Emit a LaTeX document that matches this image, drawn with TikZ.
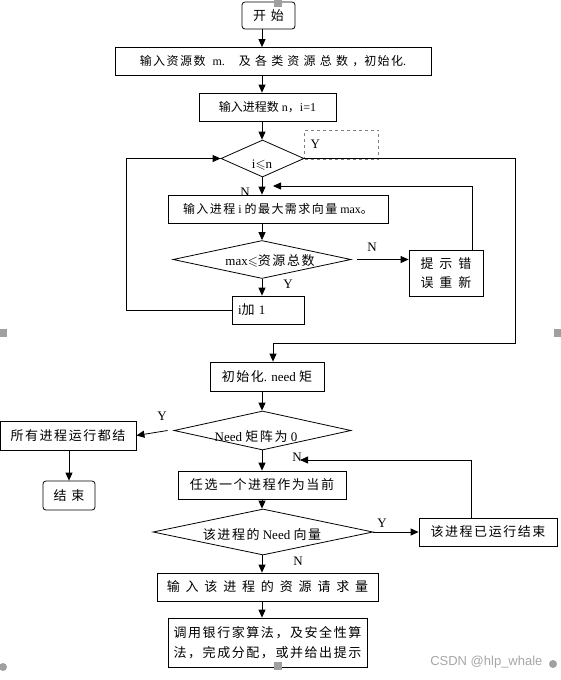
\documentclass[tikz,border=0pt]{standalone}
\usepackage{amssymb}
\usepackage{fontspec}
\setmainfont{Liberation Serif}
\newfontfamily\cjk[LetterSpace=12]{Noto Sans CJK SC}
\newfontfamily\cjkn{Noto Sans CJK SC}
\newfontfamily\cjkm[LetterSpace=35]{Noto Sans CJK SC}
\newfontfamily\cjkw[LetterSpace=45]{Noto Sans CJK SC}
\newfontfamily\wmfont{Liberation Sans}
\usetikzlibrary{shapes.geometric,arrows.meta}
\newcommand\zh[1]{{\cjk #1}}
\newcommand\zhn[1]{{\cjkn #1}}
\newcommand\zhm[1]{{\cjkm #1}}
\newcommand\zhw[1]{{\cjkw #1}}
\definecolor{handlegray}{HTML}{A0A0A0}
\definecolor{wmgray}{HTML}{A6A6A6}

\begin{document}
\begin{tikzpicture}[x=1pt,y=-1pt,font=\fontsize{13}{15}\selectfont,
    box/.style={draw, line width=0.8pt, inner sep=2pt, minimum height=28pt},
    rbox/.style={box, rounded corners=3pt},
    dia/.style={draw, diamond, line width=0.8pt, inner sep=0pt},
    arr/.style={line width=0.8pt, -{Triangle[length=8pt,width=7pt]}},
    yn/.style={inner sep=0pt}]
    \useasboundingbox (0,0) rectangle (561,680);
    \coordinate (col) at (262,0);

    % main column
    \node[rbox, minimum width=53pt, minimum height=27pt] (start) at (268.5,15.5) {\zh{开\hspace{5pt}始}};
    \node[box, minimum width=316pt, font=\fontsize{12}{14}\selectfont] (inres) at (273,61.5)
        {\zh{输入资源数}\hspace{7pt}m.\hspace{14pt}\zhm{及各类资源总数，}\zh{初始化}.};
    \node[box, minimum width=137pt, font=\fontsize{12}{14}\selectfont] (inproc) at (267.5,107)
        {\zhn{输入进程数} n\zhn{，}i=1};
    \node[dia, minimum width=83pt, minimum height=37pt] (ile) at (262.5,158.5) {};
    \node[yn] (tile) at (262,165) {i$\leqslant$n};
    \node[draw=gray, dashed, line width=0.6pt, minimum height=29pt, text width=62pt,
        align=left, inner xsep=6pt] (ybox) at (341.5,144.5) {Y};
    \node[box, minimum width=220pt, font=\fontsize{12}{14}\selectfont] (inmax) at (278,209)
        {\zh{输入进程} i \zh{的最大需求向量} max\zh{。}};
    \node[dia, minimum width=178pt, minimum height=38pt] (cmp) at (262,259.5) {};
    \node[yn] (tcmp) at (270,261) {max$\leqslant$\zh{资源总数}};
    \node[box, minimum width=74pt, minimum height=46pt, align=center,
        font=\fontsize{13}{19}\selectfont] (err) at (446,273) {\zhw{提示错}\\\zhw{误重新}};
    \node[box, minimum width=72pt, text width=60pt, align=left, inner xsep=6pt] (inc) at (268,310)
        {i\zh{加} 1};

    \node[box, minimum width=114pt, minimum height=29pt] (init) at (267,376.5)
        {\zh{初始化}. need \zh{矩}};
    \node[dia, minimum width=177pt, minimum height=39pt] (zero) at (262.5,430.5) {};
    \node[yn] (tzero) at (256,437) {Need \zh{矩阵为} 0};
    \node[box, minimum width=136pt, minimum height=29pt] (done) at (68,435.5)
        {\zh{所有进程运行都结}};
    \node[rbox, minimum width=52pt, minimum height=29pt] (stop) at (69,495.5) {\zh{结\hspace{5pt}束}};
    \node[box, minimum width=168pt] (pick) at (262,485) {\zh{任选一个进程作为当前}};
    \node[dia, minimum width=220pt, minimum height=46pt] (vec) at (263,532) {};
    \node[yn] (tvec) at (262,535) {\zh{该进程的} Need \zh{向量}};
    \node[box, minimum width=138pt] (fin) at (488,532) {\zh{该进程已运行结束}};
    \node[box, minimum width=221pt] (req) at (267.5,587) {\zhw{输入该进程的资源请求量}};
    \node[box, minimum width=199pt, minimum height=49pt, align=center,
        font=\fontsize{13}{20}\selectfont] (alg) at (267.5,642.5)
        {\zh{调用银行家算法，及安全性算}\\\zh{法，完成分配，或并给出提示}};

    % Y / N marks
    \node[yn] (n1) at (245,192) {N};
    \node[yn] (n2) at (372,247) {N};
    \node[yn] (y2) at (288,284) {Y};
    \node[yn] (y3) at (162,416) {Y};
    \node[yn] (n3) at (297,457) {N};
    \node[yn] (y4) at (382,523) {Y};
    \node[yn] (n4) at (298,561) {N};

    % loose ends of the loops
    \coordinate (back1) at (273,186);
    \coordinate (rcorner) at (515,343);
    \coordinate (down1) at (273,343);
    \coordinate (back2) at (300,460);

    % connectors
    \draw[arr] (start.south -| col) -- (inres.north -| col);
    \draw[arr] (inres.south -| col) -- (inproc.north -| col);
    \draw[arr] (inproc.south -| col) -- (ile.north -| col);
    \draw[arr] (ile.south -| col) -- (inmax.north -| col);
    \draw[arr] (inmax.south -| col) -- (cmp.north -| col);
    \draw[arr] ([xshift=6pt]cmp.east) -- (cmp.east -| err.west);
    \draw[arr] ([xshift=26pt]err.north) |- (back1);
    \draw[arr] (cmp.south -| col) -- (inc.north -| col);
    \draw[arr] (inc.west) -- ++(-105,0) |- (ile.west);
    \draw[line width=0.8pt] (ile.east) -| (rcorner) -- (down1);
    \draw[arr] (down1) -- (init.north -| down1);
    \draw[arr] (init.south -| col) -- (zero.north -| col);
    \draw[arr] ([xshift=-6pt]zero.west) -- (done.east);
    \draw[arr] (done.south -| stop.north) -- (stop.north);
    \draw[arr] (zero.south -| col) -- (pick.north -| col);
    \draw[arr] (pick.south -| col) -- (vec.north -| col);
    \draw[arr] (vec.east) -- (fin.west);
    \draw[arr] ([xshift=-17pt]fin.north) |- (back2);
    \draw[arr] (vec.south -| col) -- (req.north -| col);
    \draw[arr] (req.south -| col) -- (alg.north -| col);

    % canvas handles and mark
    \foreach \hx/\hy in {278/3, 3/333, 558/333, 278/666} {
        \fill[handlegray] (\hx-4,\hy-4) rectangle (\hx+4,\hy+4);
    }
    \fill[handlegray] (3,667) circle (4);
    \fill[handlegray] (553,664) circle (4);
    \node[font=\wmfont\fontsize{13}{15}\selectfont, text=wmgray, anchor=east] (mark) at (546,662)
        {CSDN @hlp\_whale};
\end{tikzpicture}
\end{document}
